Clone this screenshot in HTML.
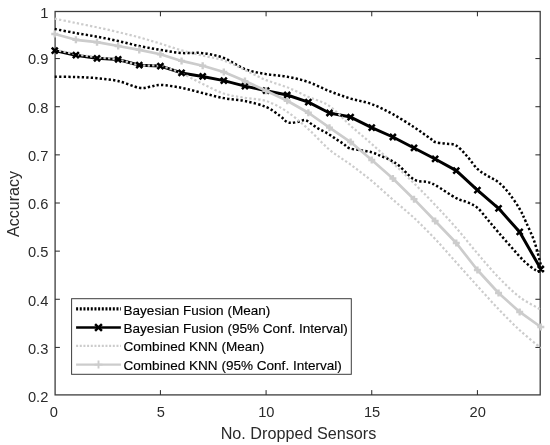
<!DOCTYPE html>
<html><head><meta charset="utf-8"><title>Accuracy vs dropped sensors</title>
<style>html,body{margin:0;padding:0;background:#fff;}svg{display:block;}text{font-family:"Liberation Sans",Arial,sans-serif;fill:#2a2a2a;}</style>
</head><body>
<svg width="550" height="445" viewBox="0 0 550 445">
<rect width="550" height="445" fill="#ffffff"/>
<g stroke="#3c3c3c" stroke-width="1.3" fill="none">
<rect x="55.1" y="11.5" width="485.1" height="383.4"/>
<path d="M160.41,394.90 v-4.8 M160.41,11.50 v4.8 M266.08,394.90 v-4.8 M266.08,11.50 v4.8 M371.75,394.90 v-4.8 M371.75,11.50 v4.8 M477.41,394.90 v-4.8 M477.41,11.50 v4.8 M55.10,347.42 h4.8 M540.20,347.42 h-4.8 M55.10,299.28 h4.8 M540.20,299.28 h-4.8 M55.10,251.14 h4.8 M540.20,251.14 h-4.8 M55.10,203.00 h4.8 M540.20,203.00 h-4.8 M55.10,154.86 h4.8 M540.20,154.86 h-4.8 M55.10,106.72 h4.8 M540.20,106.72 h-4.8 M55.10,58.58 h4.8 M540.20,58.58 h-4.8 " stroke="#262626" stroke-width="1"/>
</g>
<g fill="none" stroke-linejoin="round">
<path d="M54.75,29.00 C58.27,29.68 68.84,31.80 75.88,33.08 C82.93,34.36 89.97,35.36 97.02,36.68 C104.06,38.00 111.10,39.44 118.15,41.00 C125.19,42.56 132.24,44.56 139.28,46.04 C146.33,47.52 153.37,48.72 160.41,49.88 C167.46,51.04 174.50,52.46 181.55,53.00 C188.59,53.54 195.64,52.30 202.68,53.14 C209.73,53.98 216.77,55.38 223.81,58.04 C230.86,60.70 237.90,66.40 244.95,69.08 C251.99,71.76 259.04,72.84 266.08,74.12 C273.12,75.40 280.17,75.44 287.21,76.76 C294.26,78.08 301.30,79.64 308.35,82.04 C315.39,84.44 322.43,88.40 329.48,91.16 C336.52,93.92 343.57,96.44 350.61,98.60 C357.66,100.76 364.70,101.52 371.75,104.12 C378.79,106.72 385.83,110.36 392.88,114.20 C399.92,118.04 407.85,123.16 414.01,127.16 C420.17,131.16 426.34,135.72 429.86,138.20 C433.38,140.68 432.50,141.14 435.14,142.04 C437.79,142.94 442.19,143.03 445.71,143.62 C449.23,144.22 452.75,143.54 456.28,145.59 C459.80,147.65 463.32,152.07 466.84,155.96 C470.37,159.85 473.89,165.56 477.41,168.92 C480.93,172.28 484.45,173.88 487.98,176.12 C491.50,178.36 495.02,179.48 498.54,182.36 C502.07,185.24 505.59,188.96 509.11,193.40 C512.63,197.84 516.86,204.20 519.68,209.00 C522.49,213.80 523.55,216.72 526.02,222.20 C528.48,227.68 532.00,234.76 534.47,241.88 C536.93,249.00 539.75,261.08 540.81,264.92" stroke="#000" stroke-width="2.5" stroke-dasharray="2.3 2.2"/>
<path d="M54.75,76.76 C58.27,76.80 68.84,76.76 75.88,77.00 C82.93,77.24 89.97,77.52 97.02,78.20 C104.06,78.88 111.10,79.48 118.15,81.08 C125.19,82.68 134.00,86.84 139.28,87.80 C144.57,88.76 146.33,87.32 149.85,86.84 C153.37,86.36 155.13,84.76 160.41,84.92 C165.70,85.08 174.50,86.44 181.55,87.80 C188.59,89.16 195.64,91.36 202.68,93.08 C209.73,94.80 216.77,96.80 223.81,98.12 C230.86,99.44 237.90,99.52 244.95,101.00 C251.99,102.48 260.23,104.52 266.08,107.00 C271.93,109.48 276.65,113.45 280.03,115.88 C283.41,118.31 284.47,120.43 286.37,121.59 C288.27,122.75 289.33,122.84 291.44,122.84 C293.55,122.84 296.72,122.05 299.05,121.59 C301.37,121.14 303.27,119.67 305.39,120.10 C307.50,120.54 309.58,122.77 311.73,124.18 C313.88,125.60 316.13,127.33 318.28,128.60 C320.43,129.87 322.51,130.65 324.62,131.82 C326.73,132.98 328.85,134.26 330.96,135.61 C333.07,136.95 335.18,138.49 337.30,139.88 C339.41,141.27 341.60,142.56 343.64,143.96 C345.68,145.36 346.74,147.24 349.56,148.28 C352.37,149.32 356.81,149.52 360.54,150.20 C364.28,150.88 368.58,151.40 371.96,152.36 C375.34,153.32 377.87,154.72 380.83,155.96 C383.79,157.20 386.71,158.20 389.71,159.80 C392.70,161.40 394.74,162.28 398.80,165.56 C402.85,168.84 409.36,176.76 414.01,179.48 C418.66,182.20 423.17,180.96 426.69,181.88 C430.21,182.80 430.21,182.28 435.14,185.00 C440.08,187.72 450.99,195.36 456.28,198.20 C461.56,201.04 463.32,200.44 466.84,202.04 C470.37,203.64 473.89,204.81 477.41,207.80 C480.93,210.79 484.45,215.87 487.98,219.99 C491.50,224.11 494.56,227.90 498.54,232.52 C502.52,237.14 507.52,242.90 511.86,247.74 C516.19,252.58 520.52,257.78 524.54,261.56 C528.55,265.34 533.24,268.76 535.95,270.44 C538.66,272.12 540.00,271.44 540.81,271.64" stroke="#000" stroke-width="2.5" stroke-dasharray="2.3 2.2"/>
<polyline points="54.75,50.60 75.88,55.16 97.02,58.28 118.15,59.48 139.28,65.24 160.41,66.01 181.55,72.92 202.68,76.42 223.81,80.60 244.95,86.12 266.08,90.68 287.21,95.00 308.35,102.20 329.48,113.00 350.61,117.08 371.75,127.64 392.88,137.00 414.01,147.99 435.14,158.98 456.28,170.60 477.41,190.04 498.54,208.28 519.68,231.99 540.81,269.00" stroke="#000" stroke-width="3"/>
<path d="M54.75,18.68 C58.27,19.40 68.84,21.56 75.88,23.00 C82.93,24.44 89.97,25.80 97.02,27.32 C104.06,28.84 111.10,30.44 118.15,32.12 C125.19,33.80 132.24,35.48 139.28,37.40 C146.33,39.32 153.37,41.48 160.41,43.64 C167.46,45.80 174.50,48.36 181.55,50.36 C188.59,52.36 195.64,53.96 202.68,55.64 C209.73,57.32 216.77,58.04 223.81,60.44 C230.86,62.84 237.90,66.76 244.95,70.04 C251.99,73.32 259.04,77.24 266.08,80.12 C273.12,83.00 280.17,84.52 287.21,87.32 C294.26,90.12 301.30,93.80 308.35,96.92 C315.39,100.04 322.43,101.24 329.48,106.04 C336.52,110.84 343.57,119.40 350.61,125.72 C357.66,132.04 364.70,137.72 371.75,143.96 C378.79,150.20 385.83,156.60 392.88,163.16 C399.92,169.72 406.97,176.36 414.01,183.32 C421.06,190.28 428.10,197.48 435.14,204.92 C442.19,212.36 449.23,219.88 456.28,227.96 C463.32,236.04 470.37,245.16 477.41,253.40 C484.45,261.64 491.50,270.12 498.54,277.40 C505.59,284.68 512.63,291.72 519.68,297.08 C526.72,302.44 537.29,307.48 540.81,309.56" stroke="#cccccc" stroke-width="2.2" stroke-dasharray="2.3 2.2"/>
<path d="M54.75,49.64 C58.27,50.40 68.84,52.92 75.88,54.20 C82.93,55.48 89.97,56.44 97.02,57.32 C104.06,58.20 111.10,58.16 118.15,59.48 C125.19,60.80 132.24,64.15 139.28,65.24 C146.33,66.33 153.37,64.65 160.41,66.01 C167.46,67.37 174.50,70.41 181.55,73.40 C188.59,76.39 195.64,80.60 202.68,83.96 C209.73,87.32 216.77,91.24 223.81,93.56 C230.86,95.88 237.90,96.64 244.95,97.88 C251.99,99.12 259.04,98.68 266.08,101.00 C273.12,103.32 280.17,107.12 287.21,111.80 C294.26,116.48 301.30,122.76 308.35,129.08 C315.39,135.40 322.43,143.80 329.48,149.72 C336.52,155.64 343.57,159.40 350.61,164.60 C357.66,169.80 364.70,175.08 371.75,180.92 C378.79,186.76 385.83,193.48 392.88,199.64 C399.92,205.80 406.97,211.32 414.01,217.88 C421.06,224.44 428.10,231.56 435.14,239.00 C442.19,246.44 449.23,254.68 456.28,262.52 C463.32,270.36 470.37,278.28 477.41,286.04 C484.45,293.80 491.50,301.72 498.54,309.08 C505.59,316.44 512.63,323.72 519.68,330.20 C526.72,336.68 537.29,345.00 540.81,347.96" stroke="#cccccc" stroke-width="2.2" stroke-dasharray="2.3 2.2"/>
</g>
<path d="M51.75,47.60 l6.00,6.00 M51.75,53.60 l6.00,-6.00 M72.88,52.16 l6.00,6.00 M72.88,58.16 l6.00,-6.00 M94.02,55.28 l6.00,6.00 M94.02,61.28 l6.00,-6.00 M115.15,56.48 l6.00,6.00 M115.15,62.48 l6.00,-6.00 M136.28,62.24 l6.00,6.00 M136.28,68.24 l6.00,-6.00 M157.41,63.01 l6.00,6.00 M157.41,69.01 l6.00,-6.00 M178.55,69.92 l6.00,6.00 M178.55,75.92 l6.00,-6.00 M199.68,73.42 l6.00,6.00 M199.68,79.42 l6.00,-6.00 M220.81,77.60 l6.00,6.00 M220.81,83.60 l6.00,-6.00 M241.95,83.12 l6.00,6.00 M241.95,89.12 l6.00,-6.00 M263.08,87.68 l6.00,6.00 M263.08,93.68 l6.00,-6.00 M284.21,92.00 l6.00,6.00 M284.21,98.00 l6.00,-6.00 M305.35,99.20 l6.00,6.00 M305.35,105.20 l6.00,-6.00 M326.48,110.00 l6.00,6.00 M326.48,116.00 l6.00,-6.00 M347.61,114.08 l6.00,6.00 M347.61,120.08 l6.00,-6.00 M368.75,124.64 l6.00,6.00 M368.75,130.64 l6.00,-6.00 M389.88,134.00 l6.00,6.00 M389.88,140.00 l6.00,-6.00 M411.01,144.99 l6.00,6.00 M411.01,150.99 l6.00,-6.00 M432.14,155.98 l6.00,6.00 M432.14,161.98 l6.00,-6.00 M453.28,167.60 l6.00,6.00 M453.28,173.60 l6.00,-6.00 M474.41,187.04 l6.00,6.00 M474.41,193.04 l6.00,-6.00 M495.54,205.28 l6.00,6.00 M495.54,211.28 l6.00,-6.00 M516.68,228.99 l6.00,6.00 M516.68,234.99 l6.00,-6.00 M537.81,266.00 l6.00,6.00 M537.81,272.00 l6.00,-6.00" stroke="#000" stroke-width="2.5" fill="none"/>
<polyline points="54.75,34.04 75.88,39.80 97.02,42.20 118.15,46.04 139.28,49.88 160.41,54.20 181.55,60.92 202.68,65.72 223.81,71.96 244.95,81.08 266.08,90.68 287.21,100.76 308.35,112.76 329.48,127.64 350.61,142.04 371.75,159.99 392.88,178.52 414.01,199.16 435.14,221.00 456.28,242.98 477.41,270.01 498.54,293.00 519.68,311.96 540.81,326.98" stroke="#cccccc" stroke-width="2.7" fill="none" stroke-linejoin="round"/>
<path d="M51.25,34.04 h7.00 M54.75,30.54 v7.00 M72.38,39.80 h7.00 M75.88,36.30 v7.00 M93.52,42.20 h7.00 M97.02,38.70 v7.00 M114.65,46.04 h7.00 M118.15,42.54 v7.00 M135.78,49.88 h7.00 M139.28,46.38 v7.00 M156.91,54.20 h7.00 M160.41,50.70 v7.00 M178.05,60.92 h7.00 M181.55,57.42 v7.00 M199.18,65.72 h7.00 M202.68,62.22 v7.00 M220.31,71.96 h7.00 M223.81,68.46 v7.00 M241.45,81.08 h7.00 M244.95,77.58 v7.00 M262.58,90.68 h7.00 M266.08,87.18 v7.00 M283.71,100.76 h7.00 M287.21,97.26 v7.00 M304.85,112.76 h7.00 M308.35,109.26 v7.00 M325.98,127.64 h7.00 M329.48,124.14 v7.00 M347.11,142.04 h7.00 M350.61,138.54 v7.00 M368.25,159.99 h7.00 M371.75,156.49 v7.00 M389.38,178.52 h7.00 M392.88,175.02 v7.00 M410.51,199.16 h7.00 M414.01,195.66 v7.00 M431.64,221.00 h7.00 M435.14,217.50 v7.00 M452.78,242.98 h7.00 M456.28,239.48 v7.00 M473.91,270.01 h7.00 M477.41,266.51 v7.00 M495.04,293.00 h7.00 M498.54,289.50 v7.00 M516.18,311.96 h7.00 M519.68,308.46 v7.00 M537.31,326.98 h7.00 M540.81,323.48 v7.00" stroke="#cccccc" stroke-width="2.4" fill="none"/>
<g font-size="14.67px">
<text x="53.85" y="417.3" text-anchor="middle">0</text>
<text x="160.72" y="417.3" text-anchor="middle">5</text>
<text x="266.38" y="417.3" text-anchor="middle">10</text>
<text x="372.05" y="417.3" text-anchor="middle">15</text>
<text x="477.71" y="417.3" text-anchor="middle">20</text>
<text x="48.3" y="401.90" text-anchor="end">0.2</text>
<text x="48.3" y="353.72" text-anchor="end">0.3</text>
<text x="48.3" y="305.50" text-anchor="end">0.4</text>
<text x="48.3" y="257.28" text-anchor="end">0.5</text>
<text x="48.3" y="209.06" text-anchor="end">0.6</text>
<text x="48.3" y="160.85" text-anchor="end">0.7</text>
<text x="48.3" y="112.63" text-anchor="end">0.8</text>
<text x="48.3" y="64.41" text-anchor="end">0.9</text>
<text x="48.3" y="17.50" text-anchor="end">1</text>
</g>
<text x="298.5" y="438.6" font-size="16.2px" text-anchor="middle">No. Dropped Sensors</text>
<text transform="translate(18.6,204) rotate(-90)" font-size="16.1px" text-anchor="middle">Accuracy</text>
<rect x="71.6" y="298.7" width="279.7" height="75.6" fill="#fff" stroke="#3c3c3c" stroke-width="1"/>
<line x1="76.1" x2="120.9" y1="308.9" y2="308.9" stroke="#000" stroke-width="3.1" stroke-dasharray="2.0 1.67"/>
<line x1="76.1" x2="120.9" y1="327.5" y2="327.5" stroke="#000" stroke-width="2.7"/>
<path d="M95.10,324.10 l6.80,6.80 M95.10,330.90 l6.80,-6.80" stroke="#000" stroke-width="2.5" fill="none"/>
<line x1="76.1" x2="120.9" y1="345.8" y2="345.8" stroke="#cccccc" stroke-width="2.3" stroke-dasharray="2.0 1.67"/>
<line x1="76.1" x2="120.9" y1="364.6" y2="364.6" stroke="#cccccc" stroke-width="2.2"/>
<path d="M94.50,364.60 h8.00 M98.50,360.60 v8.00" stroke="#cccccc" stroke-width="1.9" fill="none"/>
<g font-size="13.55px" fill="#000" stroke="#000" stroke-width="0.15">
<text x="123.5" y="314.5" style="fill:#000">Bayesian Fusion (Mean)</text>
<text x="123.5" y="333.1" style="fill:#000">Bayesian Fusion (95% Conf. Interval)</text>
<text x="123.5" y="351.4" style="fill:#000">Combined KNN (Mean)</text>
<text x="123.5" y="370.2" style="fill:#000">Combined KNN (95% Conf. Interval)</text>
</g>
</svg>
</body></html>
